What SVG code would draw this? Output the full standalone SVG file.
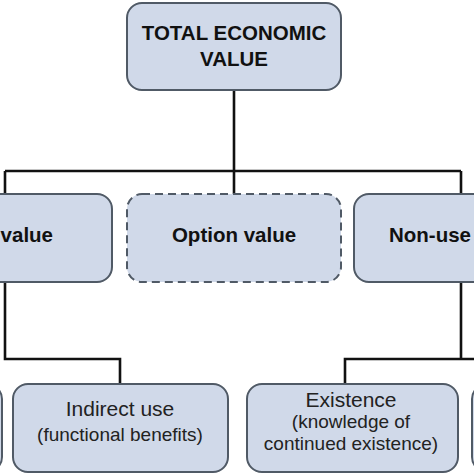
<svg xmlns="http://www.w3.org/2000/svg" width="474" height="474" viewBox="0 0 474 474">
<style>
.box{fill:#d0d9e9;stroke:#505a66;stroke-width:2}
.dash{stroke-dasharray:8 5}
.conn{fill:none;stroke:#111;stroke-width:2.6}
.b{font-family:"Liberation Sans",Arial,sans-serif;font-weight:bold;font-size:20.5px;fill:#111;text-anchor:middle}
.r{font-family:"Liberation Sans",Arial,sans-serif;font-size:19px;fill:#222;text-anchor:middle}
.h{font-size:21px}
</style>
<rect width="474" height="474" fill="#fff"/>
<g id="connectors">
<path class="conn" d="M234 90V194M5 171H461M5 171V194M461 171V194"/>
<path class="conn" d="M5 282V359H120V384"/>
<path class="conn" d="M461 282V359H345V384M461 359H474"/>
</g>
<g id="total">
<rect class="box" x="127" y="3" width="214" height="87" rx="15"/>
<text class="b" x="234" y="40">TOTAL ECONOMIC</text>
<text class="b" x="234" y="66">VALUE</text>
</g>
<g id="use">
<rect class="box" x="-102" y="194" width="214" height="88" rx="15"/>
<text class="b" x="53" y="242" style="text-anchor:end">value</text>
</g>
<g id="option">
<rect class="box dash" x="127" y="194" width="214" height="88" rx="15"/>
<text class="b" x="234" y="242">Option value</text>
</g>
<g id="nonuse">
<rect class="box" x="354" y="194" width="214" height="88" rx="15"/>
<text class="b" x="389" y="242" style="text-anchor:start">Non-use</text>
</g>
<g id="leftpartial">
<rect class="box" x="-220" y="384" width="222" height="88" rx="15"/>
</g>
<g id="indirect">
<rect class="box" x="13" y="384" width="215" height="88" rx="15"/>
<text class="r h" x="120" y="416">Indirect use</text>
<text class="r" x="120" y="441">(functional benefits)</text>
</g>
<g id="existence">
<rect class="box" x="247" y="384" width="211" height="88" rx="15"/>
<text class="r h" x="351" y="407">Existence</text>
<text class="r" x="351" y="428">(knowledge of</text>
<text class="r" x="351" y="450">continued existence)</text>
</g>
<g id="rightpartial">
<rect class="box" x="472" y="384" width="214" height="88" rx="15"/>
</g>
</svg>
